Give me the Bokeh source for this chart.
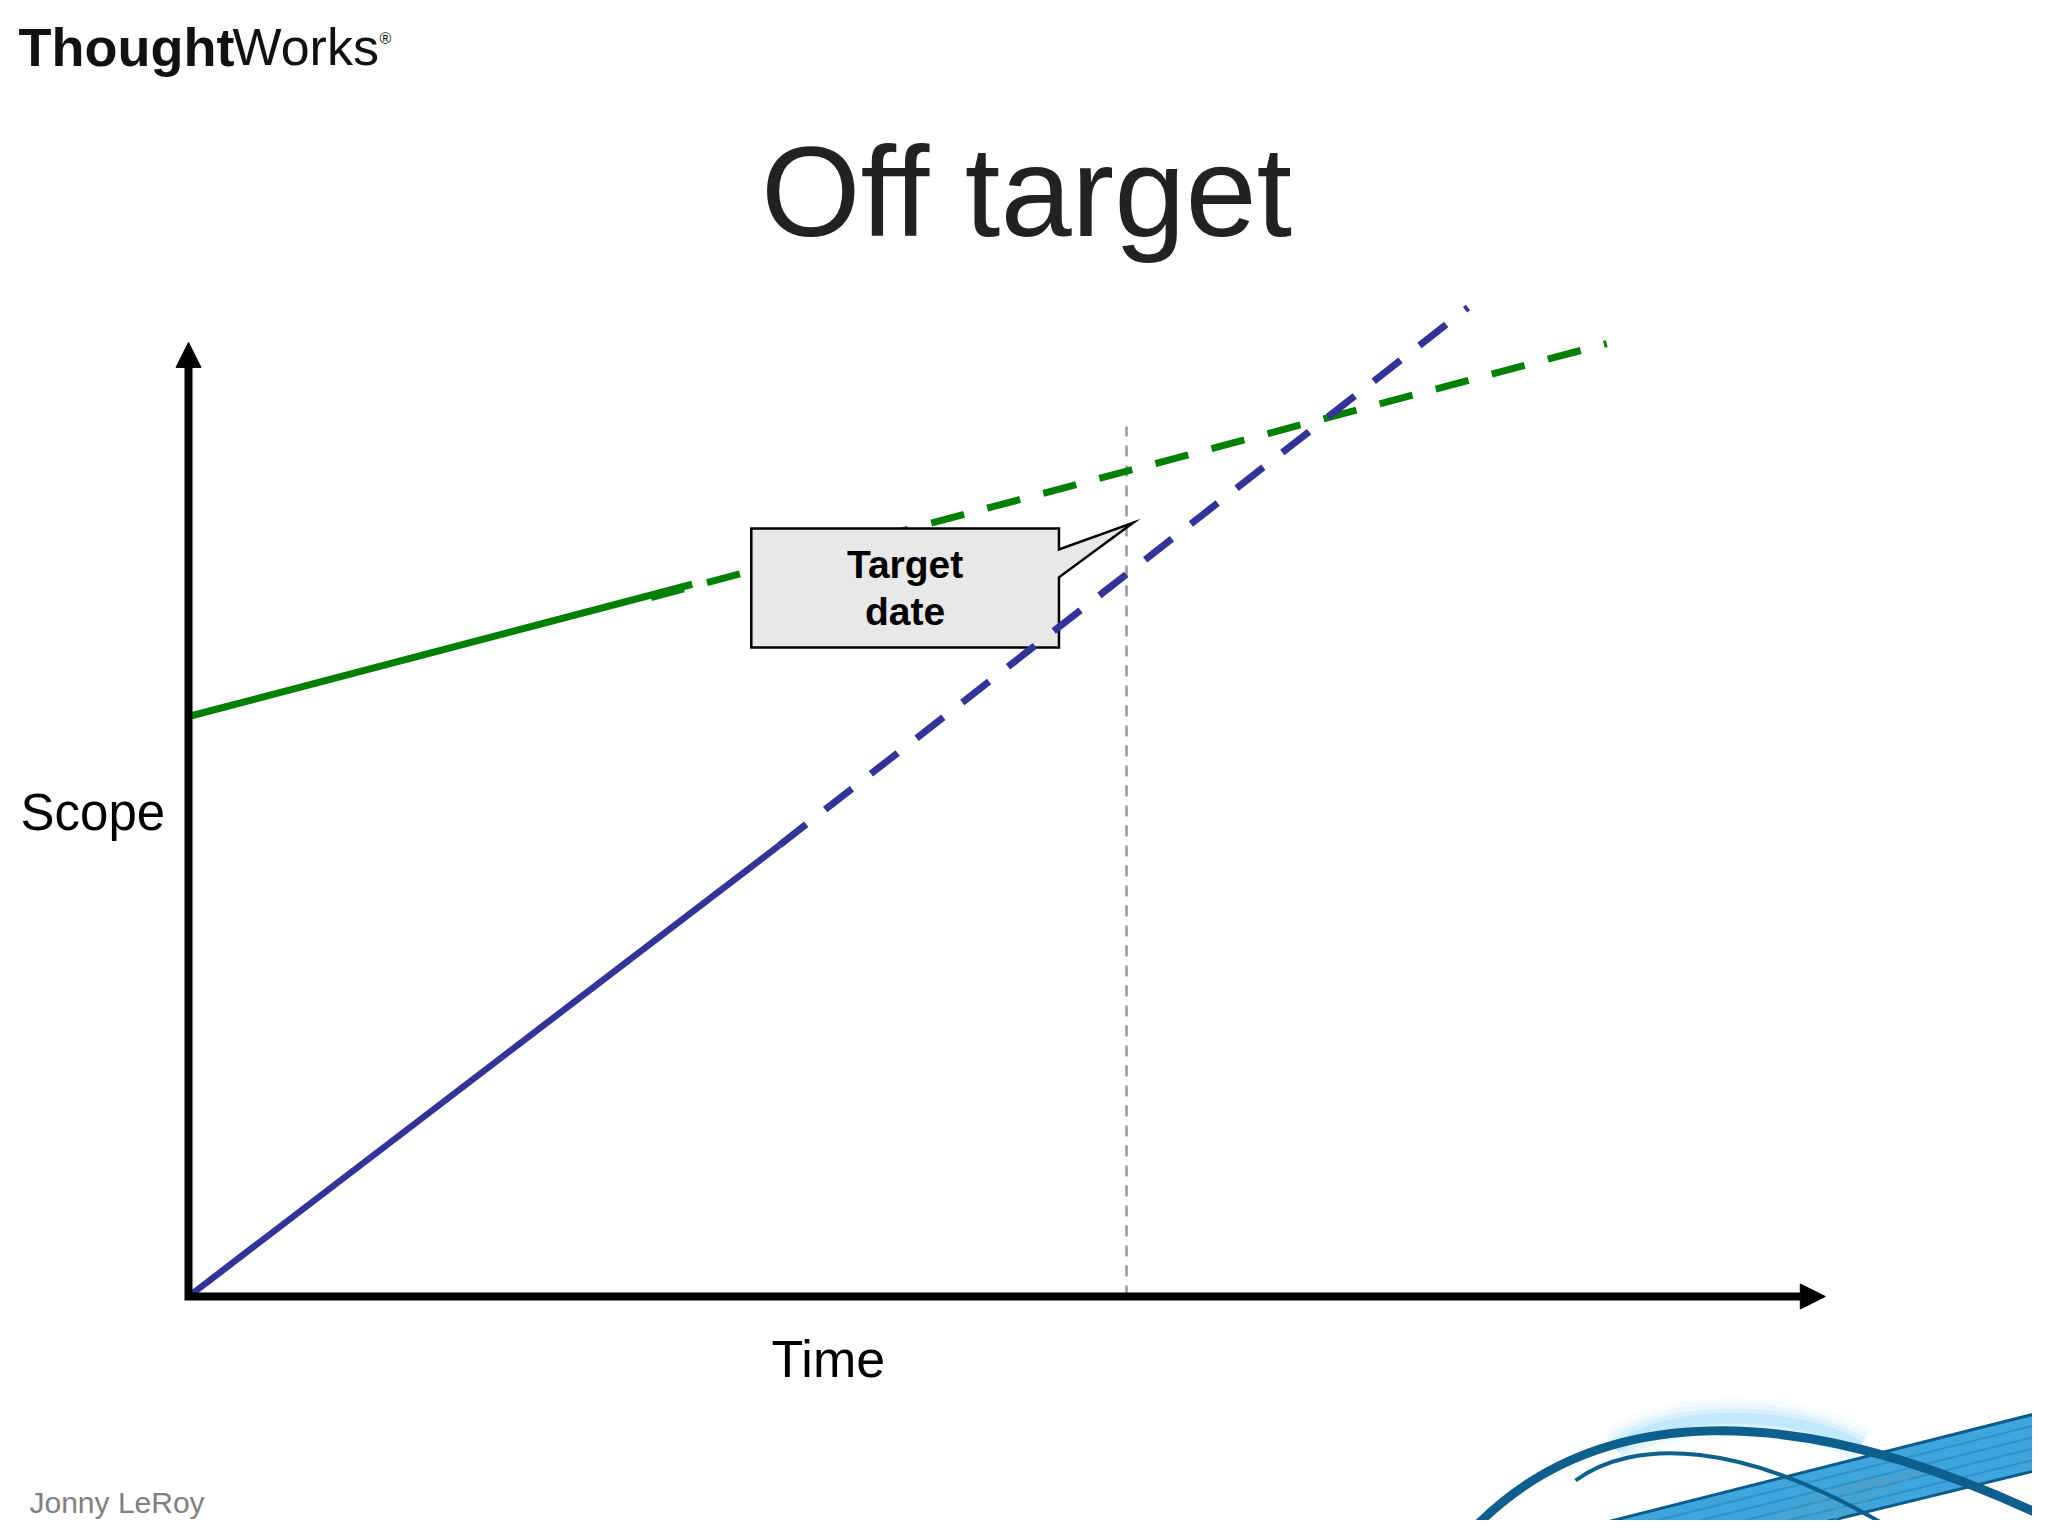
from bokeh.plotting import figure
from bokeh.models import Range1d
from bokeh.embed import file_html
from bokeh.resources import INLINE
from bokeh.core.properties import value

# ---------------- chart data (time / scope units) ----------------
green_solid_t = [0.0, 5.37]
green_solid_s = [10.0, 12.28]
green_dash_t = [4.93, 15.12]
green_dash_s = [12.05, 16.43]

blue_solid_t = [0.0, 6.30]
blue_solid_s = [0.0, 7.78]
blue_dash_t = [6.30, 13.64]
blue_dash_s = [7.78, 17.05]

target_date_t = 10.0
target_line_top_s = 15.0

time_axis_end = 17.45
scope_axis_end = 16.45

# callout shape (box with pointer towards the target date)
callout_t = [6.0, 9.28, 9.28, 10.07, 9.28, 9.28, 6.0]
callout_s = [13.24, 13.24, 12.88, 13.34, 12.40, 11.19, 11.19]
callout_lines = ["Target", "date"]

# ---------------- texts ----------------
title_text = "Off target"
y_label = "Scope"
x_label = "Time"
author = "Jonny LeRoy"
logo_bold = "Thought"
logo_regular = "Works"

# ---------------- page geometry ----------------
W, H = 2032, 1520
ORIGIN_X, ORIGIN_Y = 188.0, 1296.0   # canvas pixels of the chart origin
PX_PER_T = 93.8
PX_PER_S = 58.0

x_range = Range1d((0 - ORIGIN_X) / PX_PER_T, (W - ORIGIN_X) / PX_PER_T)
y_range = Range1d((ORIGIN_Y - H) / PX_PER_S, ORIGIN_Y / PX_PER_S)

p = figure(width=W, height=H, x_range=x_range, y_range=y_range,
           output_backend="svg", toolbar_location=None,
           x_axis_location=None, y_axis_location=None,
           min_border=0, min_border_left=0, min_border_right=0,
           min_border_top=0, min_border_bottom=0)
p.grid.visible = False
p.outline_line_color = None
p.background_fill_color = "white"
p.border_fill_color = "white"
p.extra_x_ranges = {"px": Range1d(0, W)}
p.extra_y_ranges = {"px": Range1d(H, 0)}
PX = dict(x_range_name="px", y_range_name="px")

FONT = value("Liberation Sans")

# ---------------- decorative swoosh (bottom right, canvas pixels) ----------------
band_x = [1549, 2048, 2048, 1765]
band_y = [1536, 1410, 1467, 1536]
p.patch(band_x, band_y, fill_color="#3ea6dc", line_color="#0b5c8c", line_width=3, **PX)
for f in (0.2, 0.4, 0.6, 0.8):
    x0 = band_x[0] + f * (band_x[3] - band_x[0])
    y0 = band_y[0]
    y1 = band_y[1] + f * (band_y[2] - band_y[1])
    p.line([x0, 2048], [y0, y1], line_color="#1f7fb6", line_alpha=0.5, line_width=2, **PX)
for i in range(5):
    p.bezier(x0=[1745 + i * 16], y0=[1536], x1=[1880 + i * 14], y1=[1478 - i * 3],
             cx0=[1790 + i * 16], cy0=[1505], cx1=[1830 + i * 15], cy1=[1485],
             line_color="#6f97a8", line_width=1.2, line_alpha=0.8, **PX)
# soft glow above the arc
for w, a in ((40, 0.04), (30, 0.06), (20, 0.09), (11, 0.13)):
    p.bezier(x0=[1615], y0=[1448], x1=[1860], y1=[1446], cx0=[1665], cy0=[1408],
             cx1=[1795], cy1=[1408], line_color="#29b6f6", line_width=w,
             line_alpha=a, **PX)
p.bezier(x0=[1462], y0=[1540], x1=[2048], y1=[1518], cx0=[1590], cy0=[1395],
         cx1=[1800], cy1=[1400], line_color="#0d5f8e", line_width=9, **PX)
p.bezier(x0=[1575], y0=[1480], x1=[1910], y1=[1540], cx0=[1630], cy0=[1440],
         cx1=[1740], cy1=[1432], line_color="#0d5f8e", line_width=4, **PX)

# ---------------- target date marker ----------------
p.line([target_date_t, target_date_t], [0, target_line_top_s], line_color="#999999",
       line_width=2.5, line_dash="11 9")

# ---------------- scope line (green) ----------------
p.line(green_solid_t, green_solid_s, line_color="#008000", line_width=7)
p.line(green_dash_t, green_dash_s, line_color="#008000", line_width=7, line_dash="34 24")

# ---------------- callout ----------------
p.patch(callout_t, callout_s, fill_color="#e8e8e8", line_color="black", line_width=2.5,
        line_join="miter")
box_cx = (callout_t[0] + callout_t[1]) / 2
box_cy = (callout_s[0] + callout_s[-1]) / 2
line_gap = 47 / PX_PER_S
p.text(x=[box_cx, box_cx], y=[box_cy + line_gap / 2, box_cy - line_gap / 2],
       text=callout_lines, text_font=FONT, text_font_style="bold",
       text_font_size="39px", text_align="center", text_baseline="middle",
       text_color="black")

# ---------------- progress line (blue) ----------------
p.line(blue_solid_t, blue_solid_s, line_color="#333399", line_width=6.5)
p.line(blue_dash_t, blue_dash_s, line_color="#333399", line_width=7, line_dash="34 24")

# ---------------- axes with arrow heads ----------------
head_len, head_half = 25.0, 12.5
p.line([time_axis_end - head_len / PX_PER_T, 0, 0],
       [0, 0, scope_axis_end - head_len / PX_PER_S],
       line_color="black", line_width=8, line_join="miter")
p.patches(
    [[time_axis_end, time_axis_end - head_len / PX_PER_T, time_axis_end - head_len / PX_PER_T],
     [0, head_half / PX_PER_T, -head_half / PX_PER_T]],
    [[0, head_half / PX_PER_S, -head_half / PX_PER_S],
     [scope_axis_end, scope_axis_end - head_len / PX_PER_S, scope_axis_end - head_len / PX_PER_S]],
    fill_color="black", line_color="black", line_width=1)

# ---------------- labels (canvas pixels, y = middle of capitals) ----------------
def label(x, y, txt, size, color="black", align="left", style="normal"):
    p.text(x=[x], y=[y], text=[txt], text_font=FONT, text_font_size=f"{size}px",
           text_font_style=style, text_align=align, text_baseline="middle",
           text_color=color, **PX)

label(1026, 191, title_text, 128, color="#222222", align="center")
label(20, 812, y_label, 51)
label(771, 1358, x_label, 52)
label(29, 1502, author, 30, color="#808080")
label(18, 46, logo_bold, 54, color="#111111", style="bold")
label(232, 46, logo_regular, 52, color="#111111")
label(379, 38, "®", 16, color="#111111")

open("out.html", "w").write(file_html(p, INLINE))
